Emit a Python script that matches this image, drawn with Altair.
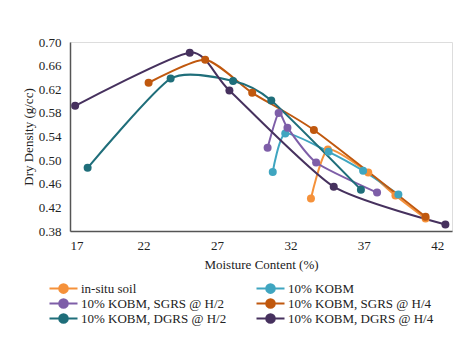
import altair as alt
import pandas as pd

series_names = [
    "in-situ soil",
    "10% KOBM",
    "10% KOBM, SGRS @ H/2",
    "10% KOBM, SGRS @ H/4",
    "10% KOBM, DGRS @ H/2",
    "10% KOBM, DGRS @ H/4",
]
colors = ["#f5913a", "#3fa5c0", "#7e5ea8", "#c0580e", "#1f6e7a", "#46315e"]

insitu_x = [33.4, 34.55, 37.3, 39.15, 41.2]
insitu_y = [0.435, 0.518, 0.479, 0.440, 0.401]
kobm_x = [30.8, 31.65, 34.6, 36.95, 39.35]
kobm_y = [0.480, 0.545, 0.514, 0.482, 0.442]
sgrs_h2_x = [30.45, 31.2, 31.8, 33.75, 37.9]
sgrs_h2_y = [0.521, 0.580, 0.555, 0.496, 0.445]
sgrs_h4_x = [22.35, 26.2, 29.4, 33.6, 41.2]
sgrs_h4_y = [0.631, 0.670, 0.614, 0.551, 0.404]
dgrs_h2_x = [18.2, 23.85, 28.1, 30.7, 36.8]
dgrs_h2_y = [0.487, 0.638, 0.634, 0.601, 0.450]
dgrs_h4_x = [17.35, 25.15, 27.85, 34.95, 42.55]
dgrs_h4_y = [0.592, 0.682, 0.618, 0.455, 0.391]

xs = [insitu_x, kobm_x, sgrs_h2_x, sgrs_h4_x, dgrs_h2_x, dgrs_h4_x]
ys = [insitu_y, kobm_y, sgrs_h2_y, sgrs_h4_y, dgrs_h2_y, dgrs_h4_y]

x_ticks = [17, 22, 27, 32, 37, 42]
y_ticks = [0.38, 0.42, 0.46, 0.50, 0.54, 0.58, 0.62, 0.66, 0.70]

rows = []
for i, (name, sx, sy) in enumerate(zip(series_names, xs, ys)):
    for j, (a, b) in enumerate(zip(sx, sy)):
        rows.append({"series": name, "order": i, "idx": j, "mc": a, "dd": b})
df = pd.DataFrame(rows)

FONT = "Liberation Serif"
# symbol unit = sqrt(size)/2 = 5 px ; line spans +-14 px, circle radius ~4.3 px
sym_path = "M-2.8,0H2.8M-0.86,0A0.86,0.86,0,1,1,0.86,0A0.86,0.86,0,1,1,-0.86,0Z"

legend = alt.Legend(
    title=None,
    orient="none",
    legendX=-13,
    legendY=240,
    columns=2,
    columnPadding=25,
    rowPadding=-3,
    symbolType=sym_path,
    symbolSize=100,
    symbolStrokeWidth=2,
    labelFont=FONT,
    labelFontSize=13,
    labelColor="#222222",
    labelOffset=11,
    labelLimit=300,
    direction="horizontal",
)
color = alt.Color(
    "series:N",
    scale=alt.Scale(domain=series_names, range=colors),
    sort=series_names,
    legend=legend,
)

x = alt.X(
    "mc:Q",
    scale=alt.Scale(domain=[17, 43], nice=False, zero=False),
    axis=alt.Axis(
        title="Moisture Content (%)",
        values=x_ticks,
        format="d",
        grid=False,
        ticks=False,
        domainColor="#555555",
        domainWidth=1.5,
        labelFont=FONT,
        labelFontSize=13,
        labelColor="#222222",
        labelPadding=8,
        titleFont=FONT,
        titleFontSize=13,
        titleFontWeight="normal",
        titleColor="#222222",
        titlePadding=6,
    ),
)
y = alt.Y(
    "dd:Q",
    scale=alt.Scale(domain=[0.38, 0.70], nice=False, zero=False),
    axis=alt.Axis(
        title="Dry Density (g/cc)",
        values=y_ticks,
        format=".2f",
        grid=False,
        ticks=False,
        domainColor="#555555",
        domainWidth=1.5,
        labelFont=FONT,
        labelFontSize=13,
        labelColor="#222222",
        labelPadding=9,
        titleFont=FONT,
        titleFontSize=13,
        titleFontWeight="normal",
        titleColor="#222222",
        titlePadding=3,
    ),
)

lines = alt.Chart(df).mark_line(interpolate="cardinal", tension=0.35, strokeWidth=2).encode(
    x=x, y=y, color=color, order="idx:Q", detail="series:N"
)
points = alt.Chart(df).mark_point(filled=True, size=64, opacity=1).encode(
    x=x, y=y, color=color
)

chart = (
    alt.layer(lines, points)
    .properties(
        width=382,
        height=189,
        autosize=alt.AutoSizeParams(type="none"),
        padding={"left": 70, "top": 42, "right": 22, "bottom": 122},
    )
    .configure_view(stroke=None)
    .configure(background="white")
)

chart.save("out.html", embed_options={"renderer": "svg", "actions": False})
